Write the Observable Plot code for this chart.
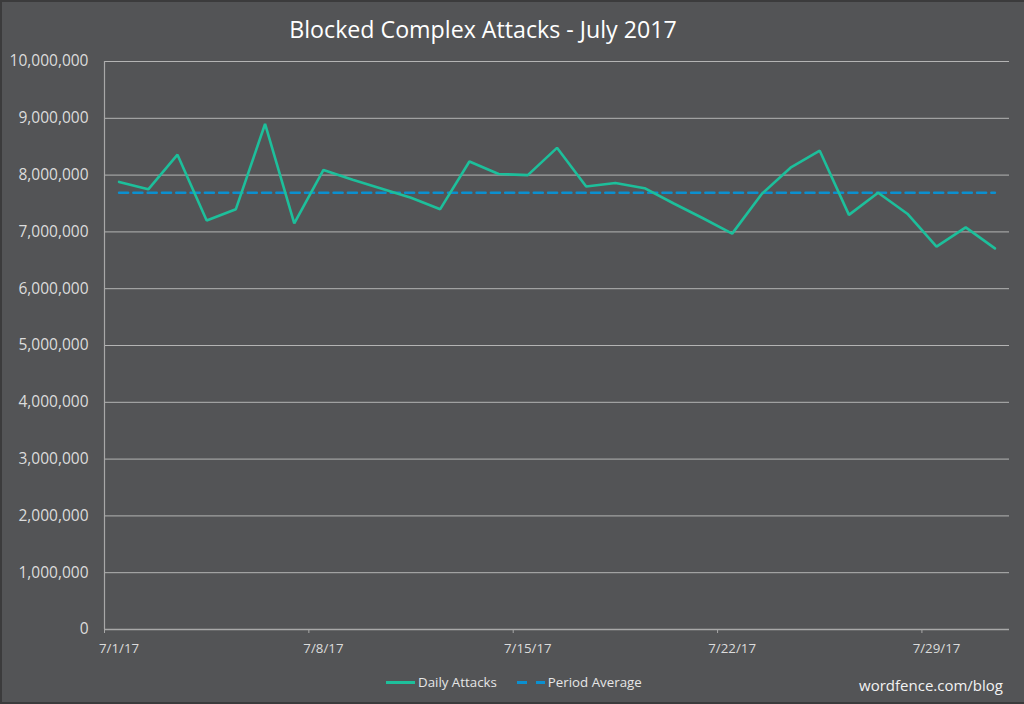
<!DOCTYPE html>
<html>
<head>
<meta charset="utf-8">
<script src="https://cdn.jsdelivr.net/npm/d3@7"></script>
<script src="https://cdn.jsdelivr.net/npm/@observablehq/plot@0.6"></script>
<style>
html, body { margin: 0; padding: 0; background: #535456; }
#wrap { position: relative; width: 1024px; height: 704px; background: #535456; overflow: hidden; font-family: "Open Sans", sans-serif; }
#frame { position: absolute; left: 0; top: 0; width: 1024px; height: 704px; box-sizing: border-box; border-top: 2px solid #3b3b3c; border-left: 2px solid #3b3b3c; border-bottom: 2px solid #3b3b3c; pointer-events: none; z-index: 5; }
#title { position: absolute; left: 0; top: 14px; width: 966px; text-align: center; color: #ffffff; font-size: 23.2px; line-height: 30px; white-space: nowrap; }
#chart { position: absolute; left: 0; top: 50px; }
#legend { position: absolute; left: 386px; top: 672px; height: 20px; display: flex; align-items: center; color: #e6e6e6; font-size: 13.3px; white-space: nowrap; }
#legend .sw { display: inline-block; height: 0; }
#source { position: absolute; right: 21px; top: 674px; color: #f2f2f2; font-size: 15px; line-height: 22px; white-space: nowrap; }
</style>
</head>
<body>
<div id="wrap">
  <div id="title">Blocked Complex Attacks - July 2017</div>
  <div id="chart"></div>
  <div id="legend">
    <span class="sw" style="width:29px;border-top:3px solid #1dbf9b;"></span>
    <span style="margin-left:3px;">Daily Attacks</span>
    <span class="sw" style="width:10px;border-top:3px solid #0b90d0;margin-left:20px;"></span>
    <span class="sw" style="width:9px;border-top:3px solid #0b90d0;margin-left:9px;"></span>
    <span style="margin-left:3px;">Period Average</span>
  </div>
  <div id="source">wordfence.com/blog</div>
  <div id="frame"></div>
</div>
<script>
// Day of month (July 2017)
const days = [1, 2, 3, 4, 5, 6, 7, 8, 9, 10, 11, 12, 13, 14, 15, 16, 17, 18, 19, 20, 21, 22, 23, 24, 25, 26, 27, 28, 29, 30, 31];
// Daily blocked complex attacks
const attacks = [7880000, 7750000, 8360000, 7200000, 7400000, 8900000, 7150000, 8090000, 7920000, 7760000, 7600000, 7400000, 8240000, 8020000, 8000000, 8480000, 7800000, 7860000, 7770000, 7500000, 7240000, 6970000, 7660000, 8130000, 8430000, 7300000, 7690000, 7320000, 6740000, 7080000, 6710000];
// Tick labels on the date axis
const tickDays = [1, 8, 15, 22, 29];
const tickLabels = ["7/1/17", "7/8/17", "7/15/17", "7/22/17", "7/29/17"];
// Category boundaries where tick marks sit
const tickMarks = [0.5, 7.5, 14.5, 21.5, 28.5];

const data = days.map((d, i) => ({day: d, value: attacks[i]}));
const avg = d3.mean(attacks);
const avgData = [{day: days[0], value: avg}, {day: days[days.length - 1], value: avg}];
const labelOf = new Map(tickDays.map((d, i) => [d, tickLabels[i]]));

const chart = Plot.plot({
  width: 1024,
  height: 620,
  marginTop: 11,
  marginBottom: 41,
  marginLeft: 104,
  marginRight: 15,
  style: {background: "transparent", fontFamily: "Open Sans, sans-serif", color: "#d9d9d9", overflow: "visible"},
  x: {type: "linear", domain: [0.5, 31.5], axis: null},
  y: {domain: [0, 10000000], axis: null},
  marks: [
    Plot.gridY({ticks: d3.range(0, 10000001, 1000000), stroke: "#b4b4b4", strokeOpacity: 1, strokeWidth: 1}),
    Plot.axisY({ticks: d3.range(0, 10000001, 1000000), tickSize: 0, tickPadding: 16, tickFormat: d3.format(","), fontSize: 15.5, fill: "#dcdcdc", label: null}),
    Plot.ruleX([0.5], {stroke: "#a8a8a8", strokeWidth: 1.2}),
    Plot.ruleY([0], {stroke: "#a8a8a8", strokeWidth: 1.5}),
    Plot.axisX({ticks: tickMarks, tickSize: 4, tickFormat: () => "", stroke: "#a8a8a8", label: null}),
    Plot.axisX({ticks: tickDays, tickSize: 0, tickPadding: 14, tickFormat: d => labelOf.get(d), fontSize: 13.3, fill: "#dcdcdc", label: null}),
    Plot.line(avgData, {x: "day", y: "value", stroke: "#0b90d0", strokeWidth: 2.6, strokeDasharray: "9,5.3"}),
    Plot.line(data, {x: "day", y: "value", stroke: "#1dbf9b", strokeWidth: 2.6, strokeLinejoin: "miter"})
  ]
});
document.getElementById("chart").appendChild(chart);
</script>
</body>
</html>
